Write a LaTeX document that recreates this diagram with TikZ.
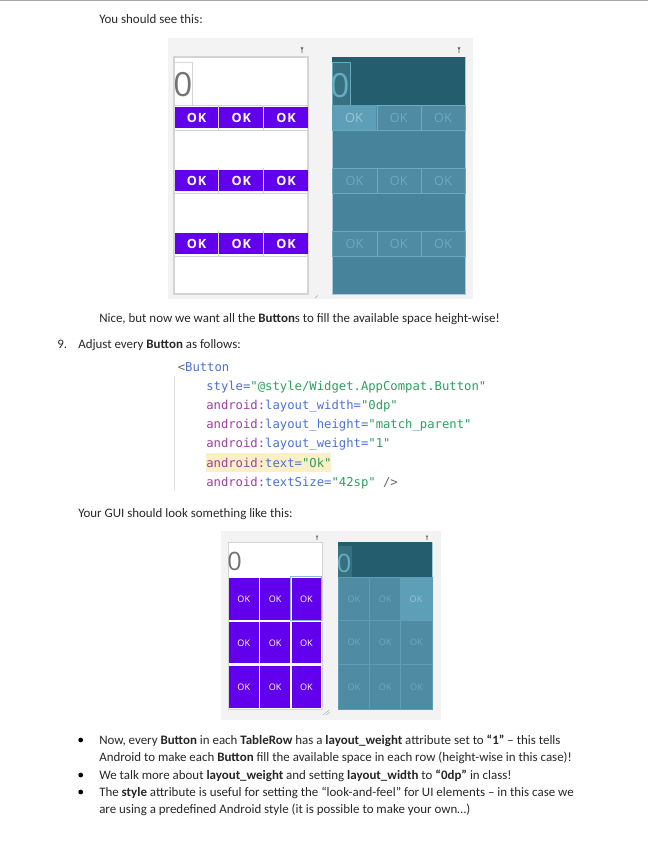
\documentclass[tikz,border=0pt]{standalone}
\usepackage{fontspec}
\setmainfont{Carlito}
\setsansfont{Open Sans}
\setmonofont{DejaVu Sans Mono}
\definecolor{panelgray}{HTML}{F3F3F3}
\definecolor{framegray}{HTML}{D4D4D4}
\definecolor{okpurple}{HTML}{6200EE}
\definecolor{bluedark}{HTML}{245E6E}
\definecolor{bluemid}{HTML}{47839A}
\definecolor{bluecell}{HTML}{4F8CA4}
\definecolor{bluehigh}{HTML}{5E9FB8}
\definecolor{blueline}{HTML}{6CAAC0}
\definecolor{bluezero}{HTML}{62AEC5}
\definecolor{bluebox}{HTML}{38707F}
\definecolor{selectblue}{HTML}{8DB6DC}
\definecolor{codepurple}{HTML}{9B3F9E}
\definecolor{codeblue}{HTML}{4C70D6}
\definecolor{codegreen}{HTML}{2F9E5F}
\definecolor{codeyellow}{HTML}{FBEFC8}
\newcommand{\codeattr}[3]{\textcolor{codepurple}{android:}\textcolor{codeblue}{#1=}\textcolor{codegreen}{"#2"}#3}
\tikzset{
  txt/.style={anchor=base west, inner sep=0pt, font=\fontsize{9.7}{11}\selectfont, text=black!85},
  code/.style={anchor=base west, inner sep=0pt, font=\ttfamily\fontsize{9.18}{11}\selectfont},
  okbig/.style={anchor=north west, inner sep=0pt, fill=okpurple, text=white,
    font=\sffamily\bfseries\fontsize{9.5}{10}\selectfont},
  oksmall/.style={anchor=north west, inner sep=0pt, fill=okpurple, text=white,
    font=\sffamily\fontsize{6.8}{8}\selectfont},
  okdark/.style={anchor=north west, inner sep=0pt, draw=blueline, fill=bluecell, text=blueline,
    font=\sffamily\fontsize{9.5}{10}\selectfont},
  okdarksmall/.style={anchor=north west, inner sep=0pt, draw=blueline!60!bluecell, fill=bluecell, text=blueline,
    font=\sffamily\fontsize{6.8}{8}\selectfont},
  antenna/.style={draw=black!65, line width=0.5pt},
}
\begin{document}
\begin{tikzpicture}[x=0.75pt,y=-0.75pt]
  \useasboundingbox (0,0) rectangle (648,854);
  \draw[black!35, line width=0.8pt] (0,0.5) -- (648,0.5);

  \node[txt] (see) at (99,23) {You should see this:};

  % first pair of screens
  \fill[panelgray] (168,38) rectangle (473,299);
  \draw[framegray, line width=0.8pt, fill=white] (174,57) rectangle (308,294);
  \draw[framegray] (174,62) rectangle (192.5,105);
  \draw[framegray] (174,105.5) -- (308,105.5);
  \node[text=black!55, inner sep=0pt, font=\sffamily\fontsize{25}{28}\selectfont] (zeroa) at (183,85) {0};
  \draw[blueline!60, fill=bluemid] (332,57) rectangle (465,294);
  \fill[bluedark] (332,57) rectangle (465,105);
  \draw[blueline, fill=bluebox] (332,62) rectangle (350,105);
  \node[text=bluezero, inner sep=0pt, font=\sffamily\fontsize{25}{28}\selectfont] (zerob) at (340,86) {0};
  \foreach \r/\y in {1/107,2/170,3/233} {
    \draw[framegray] (174,\y+23) -- (308,\y+23);
    \foreach \c/\x/\w in {1/174/44.5,2/218.5/45,3/263.5/44.5} {
      \node[okbig, minimum width=\w*0.75pt, minimum height=15.4pt] (oka-\r-\c) at (\x,\y) {O\kern0.7pt K};
      \draw[framegray] (\x,\y-2) -- (\x,\y+23);
    }
    \foreach \c/\x/\w in {1/332/44.5,2/376.5/44,3/420.5/44.5} {
      \node[okdark, minimum width=\w*0.75pt, minimum height=18.8pt] (okb-\r-\c) at (\x,\y-2) {OK};
    }
  }
  \fill[bluehigh] (332.4,105.4) rectangle (376.2,130);
  \node[text=blueline!70!white, inner sep=0pt, font=\sffamily\fontsize{9.5}{10}\selectfont] (okb-high) at (354,118) {OK};
  \draw[antenna] (301,47) -- (302,49.5) -- (303,47) (302,49.5) -- (302,53);
  \draw[antenna] (458,47) -- (459,49.5) -- (460,47) (459,49.5) -- (459,53);
  \draw[black!40, line width=0.3pt] (315,298) -- (318,295.5);

  \node[txt] (nice) at (99,322) {Nice, but now we want all the \textbf{Button}s to fill the available space height-wise!};
  \node[txt] (nine) at (57,348) {9.};
  \node[txt] (adjust) at (78,348) {Adjust every \textbf{Button} as follows:};

  % code block
  \fill[codeyellow] (206,453) rectangle (331,472);
  \draw[black!12] (174.7,376) -- (174.7,490);
  \node[code] (open) at (177.5,371) {\textcolor{black!60}{<}\textcolor{codeblue}{Button}};
  \node[code] (style) at (206,390) {\textcolor{codeblue}{style=}\textcolor{codegreen}{"@style/Widget.AppCompat.Button"}};
  \node[code] (width) at (206,409) {\codeattr{layout\_width}{0dp}{}};
  \node[code] (height) at (206,428) {\codeattr{layout\_height}{match\_parent}{}};
  \node[code] (weight) at (206,447) {\codeattr{layout\_weight}{1}{}};
  \node[code] (text) at (206,467) {\codeattr{text}{Ok}{}};
  \node[code] (size) at (206,486) {\codeattr{textSize}{42sp}{ \textcolor{black!60}{/>}}};

  \node[txt] (gui) at (78,517) {Your GUI should look something like this:};

  % second pair of screens
  \fill[panelgray] (221,531) rectangle (441,720);
  \draw[framegray, fill=white] (228,542) rectangle (322,709);
  \node[text=black!55, inner sep=0pt, font=\sffamily\fontsize{19}{22}\selectfont] (zeroc) at (234.5,561) {0};
  \draw[blueline!60, fill=bluemid] (338,542) rectangle (432,709);
  \fill[bluedark] (338,542) rectangle (432,576.7);
  \fill[bluebox] (338,546) rectangle (351.7,576.7);
  \node[text=bluezero, inner sep=0pt, font=\sffamily\fontsize{19}{22}\selectfont] (zerod) at (344,563) {0};
  \foreach \r/\y/\h/\yy/\hh in {1/578/41.3/576.7/43.6,2/622/41/620.3/44,3/666/41.3/664.3/44.7} {
    \foreach \c/\x/\xx/\ww in {1/228.7/338/31.3,2/260/369.3/31,3/291.3/400.3/31.7} {
      \node[oksmall, minimum width=22.2pt, minimum height=\h*0.75pt] (okc-\r-\c) at (\x,\y) {OK};
      \node[okdarksmall, minimum width=\ww*0.75pt, minimum height=\hh*0.75pt] (okd-\r-\c) at (\xx,\yy) {OK};
    }
  }
  \fill[bluehigh] (400.6,577) rectangle (431.8,620);
  \node[text=blueline!70!white, inner sep=0pt, font=\sffamily\fontsize{6.8}{8}\selectfont] (okd-high) at (416,599) {OK};
  \draw[selectblue, line width=0.6pt] (290.3,576.7) rectangle (321.7,620.7);
  \draw[antenna, line width=0.4pt] (316,535.5) -- (317,537.5) -- (318,535.5) (317,537.5) -- (317,540);
  \draw[antenna, line width=0.4pt] (426,535.5) -- (427,537.5) -- (428,535.5) (427,537.5) -- (427,540);
  \draw[black!35, line width=0.3pt] (323,715) -- (329,710) (326,715) -- (330,712);

  % bullets
  \foreach \y in {740,775,792} {
    \fill[black] (80.7,\y) circle (2.4);
  }
  \node[txt] (linea) at (99,744) {Now, every \textbf{Button} in each \textbf{TableRow} has a \textbf{layout\_weight} attribute set to \textbf{“1”} – this tells};
  \node[txt] (lineb) at (99,761) {Android to make each \textbf{Button} fill the available space in each row (height-wise in this case)!};
  \node[txt] (linec) at (99,779) {We talk more about \textbf{layout\_weight} and setting \textbf{layout\_width} to \textbf{“0dp”} in class!};
  \node[txt] (lined) at (99,796) {The \textbf{style} attribute is useful for setting the “look-and-feel” for UI elements – in this case we};
  \node[txt] (linee) at (99,813) {are using a predefined Android style (it is possible to make your own…)};
\end{tikzpicture}
\end{document}
